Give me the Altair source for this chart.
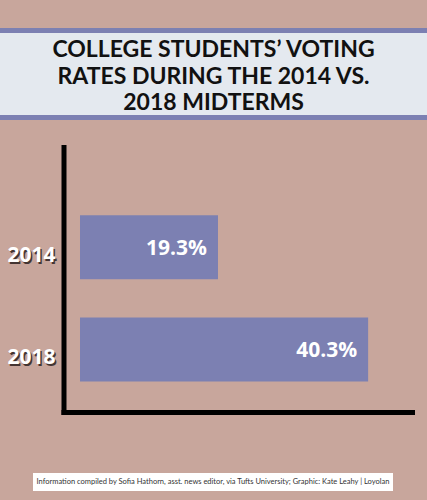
import altair as alt
import pandas as pd

years = ["2014", "2018"]
rates = [19.3, 40.3]
labels = ["19.3%", "40.3%"]
title_lines = ["COLLEGE STUDENTS’ VOTING", "RATES DURING THE 2014 VS.", "2018 MIDTERMS"]
footnote = "Information compiled by Sofia Hathorn, asst. news editor, via Tufts University; Graphic: Kate Leahy | Loyolan"

BG = "#c8a69c"
BAR = "#7c80b2"
BAND = "#e4e9ef"

df = pd.DataFrame({"year": years, "rate": rates, "label": labels})
one = pd.DataFrame({"k": [0]})

xs = alt.Scale(domain=[0, 50], range=[80, 80 + 50 * 7.15])
ys = alt.Scale(domain=years, range=[196, 400.6], paddingInner=0, paddingOuter=0)

# Title band
band_outer = alt.Chart(one).mark_rect(color=BAR).encode(
    x=alt.value(0), x2=alt.value(427), y=alt.value(28), y2=alt.value(120))
band_inner = alt.Chart(one).mark_rect(color=BAND).encode(
    x=alt.value(0), x2=alt.value(427), y=alt.value(33), y2=alt.value(115))
title = alt.Chart(one).mark_text(
    text=title_lines, font="Lato", fontWeight="bold", fontSize=23, color="#111111",
    align="center", baseline="alphabetic", lineHeight=26.5
).encode(x=alt.value(213.5), y=alt.value(57))

# Bars
bars = alt.Chart(df).mark_bar(color=BAR, size=64).encode(
    x=alt.X("rate:Q", scale=xs, axis=None),
    y=alt.Y("year:N", scale=ys, axis=None),
)
vals = alt.Chart(df).mark_text(
    font="Open Sans", fontWeight="bold", fontSize=21, color="white",
    align="right", baseline="alphabetic", dx=-11, dy=7.5
).encode(x=alt.X("rate:Q", scale=xs, axis=None), y=alt.Y("year:N", scale=ys, axis=None), text="label:N")

# Year labels with shadow
yshadow = alt.Chart(df).mark_text(
    font="Open Sans", fontWeight="bold", fontSize=21, color="#2e2220", opacity=0.85,
    align="center", baseline="alphabetic", dx=1.5, dy=16.5
).encode(x=alt.value(31.5), y=alt.Y("year:N", scale=ys, axis=None), text="year:N")
ytext = alt.Chart(df).mark_text(
    font="Open Sans", fontWeight="bold", fontSize=21, color="white",
    align="center", baseline="alphabetic", dy=15
).encode(x=alt.value(31.5), y=alt.Y("year:N", scale=ys, axis=None), text="year:N")

# Axis lines
vline = alt.Chart(one).mark_rule(color="black", strokeWidth=5).encode(
    x=alt.value(64), y=alt.value(145), y2=alt.value(415))
hline = alt.Chart(one).mark_rule(color="black", strokeWidth=5).encode(
    x=alt.value(61.5), x2=alt.value(415), y=alt.value(412.5))

# Footnote
fbox = alt.Chart(one).mark_rect(color="white").encode(
    x=alt.value(33), x2=alt.value(393), y=alt.value(473), y2=alt.value(491))
ftext = alt.Chart(one).mark_text(
    text=footnote, font="Lato", fontSize=7.5, color="#333333",
    align="center", baseline="middle"
).encode(x=alt.value(213), y=alt.value(482))

chart = alt.layer(
    band_outer, band_inner, title, bars, vals, yshadow, ytext, vline, hline, fbox, ftext
).properties(
    width=427, height=500, background=BG, padding=0,
    autosize=alt.AutoSizeParams(type="none")
).configure_view(stroke=None)

chart.save("out.html", embed_options={"renderer": "svg", "actions": False})
